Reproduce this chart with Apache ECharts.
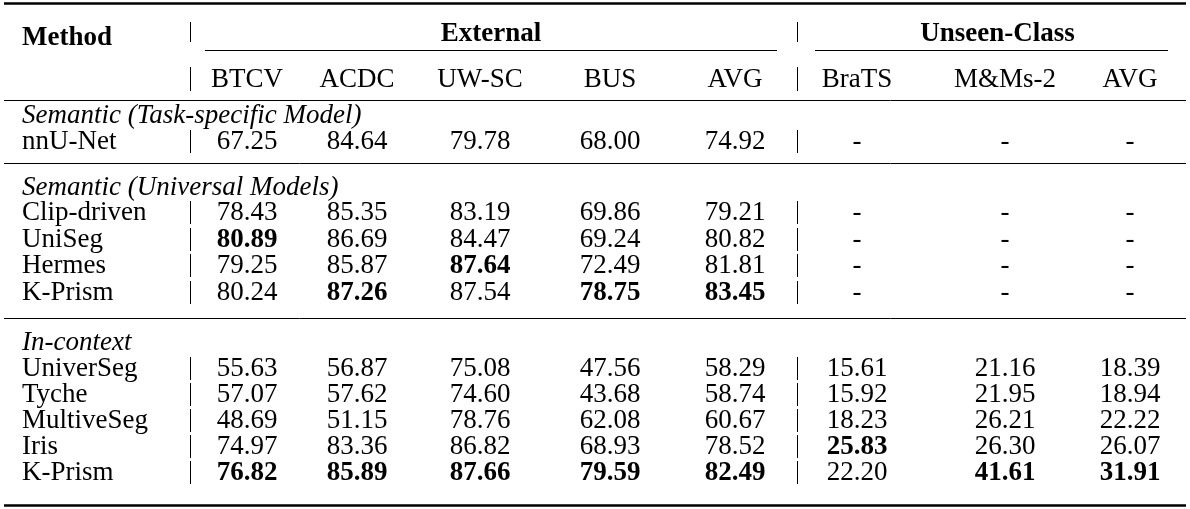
<!DOCTYPE html>
<html>
<head>
<meta charset="utf-8">
<script src="https://cdn.jsdelivr.net/npm/echarts@6/dist/echarts.min.js"></script>
<style>html,body{margin:0;padding:0;background:#fff}#main{width:1190px;height:509px}</style>
</head>
<body>
<div id="main"></div>
<script>
// table content
var externalCols = ["BTCV", "ACDC", "UW-SC", "BUS", "AVG"];
var unseenCols = ["BraTS", "M&Ms-2", "AVG"];
var groups = ["Semantic (Task-specific Model)", "Semantic (Universal Models)", "In-context"];
var methods = ["nnU-Net", "Clip-driven", "UniSeg", "Hermes", "K-Prism", "UniverSeg", "Tyche", "MultiveSeg", "Iris", "K-Prism"];
var externalVals = [
  [67.25, 84.64, 79.78, 68.00, 74.92],
  [78.43, 85.35, 83.19, 69.86, 79.21],
  [80.89, 86.69, 84.47, 69.24, 80.82],
  [79.25, 85.87, 87.64, 72.49, 81.81],
  [80.24, 87.26, 87.54, 78.75, 83.45],
  [55.63, 56.87, 75.08, 47.56, 58.29],
  [57.07, 57.62, 74.60, 43.68, 58.74],
  [48.69, 51.15, 78.76, 62.08, 60.67],
  [74.97, 83.36, 86.82, 68.93, 78.52],
  [76.82, 85.89, 87.66, 79.59, 82.49]
];
var unseenVals = [
  null, null, null, null, null,
  [15.61, 21.16, 18.39],
  [15.92, 21.95, 18.94],
  [18.23, 26.21, 22.22],
  [25.83, 26.30, 26.07],
  [22.20, 41.61, 31.91]
];
// [row, col] of bold cells, col 0-4 external, 5-7 unseen
var boldCells = [[2,0],[3,2],[4,1],[4,3],[4,4],[8,5],[9,0],[9,1],[9,2],[9,3],[9,4],[9,6],[9,7]];

// layout (pixel space of the grid)
var colX = [247, 357, 480, 610, 735, 857, 1005, 1130];
var methodX = 22;
var sep1 = 190, sep2 = 797;
var groupY = [116, 188, 343];
var rowY = [142, 213, 240, 266, 293, 369, 395, 421, 447, 473];
var head1Y = 38, head2Y = 80;
var font = "'Liberation Serif', 'Times New Roman', serif";

function isBold(r, c) {
  return boldCells.some(function (b) { return b[0] === r && b[1] === c; });
}
function txt(x, y, s, opt) {
  opt = opt || {};
  return {
    value: [x, y],
    label: {
      show: true, formatter: s, position: [0, 0],
      align: opt.align || "center", verticalAlign: "middle",
      fontFamily: font, fontSize: opt.size || 27, color: "#000", opacity: 1,
      fontWeight: opt.bold ? "bold" : "normal",
      fontStyle: opt.italic ? "italic" : "normal"
    }
  };
}

var texts = [];
texts.push(txt(methodX, 38, "Method", {align: "left", bold: true}));
texts.push(txt((colX[0] + colX[4]) / 2, head1Y - 4, "External", {bold: true}));
texts.push(txt((colX[5] + colX[7]) / 2 + 4, head1Y - 4, "Unseen-Class", {bold: true}));
externalCols.forEach(function (c, i) { texts.push(txt(colX[i], head2Y, c)); });
unseenCols.forEach(function (c, i) { texts.push(txt(colX[5 + i], head2Y, c)); });
groups.forEach(function (g, i) { texts.push(txt(methodX, groupY[i], g, {align: "left", italic: true})); });
methods.forEach(function (m, r) {
  texts.push(txt(methodX, rowY[r], m, {align: "left"}));
  externalVals[r].forEach(function (v, c) {
    texts.push(txt(colX[c], rowY[r], v.toFixed(2), {bold: isBold(r, c)}));
  });
  for (var k = 0; k < 3; k++) {
    var u = unseenVals[r];
    texts.push(txt(colX[5 + k], rowY[r], u ? u[k].toFixed(2) : "-", {bold: u && isBold(r, 5 + k)}));
  }
});

// rules
function seg(x1, y1, x2, y2, w) {
  return {coords: [[x1, y1], [x2, y2]], lineStyle: {width: w, color: "#000", opacity: 1}};
}
var rules = [
  seg(4, 3, 1186, 3, 2.5),
  seg(205, 50, 777, 50, 1),
  seg(815, 50, 1168, 50, 1),
  seg(4, 100, 1186, 100, 1),
  seg(4, 163, 1186, 163, 1),
  seg(4, 318, 1186, 318, 1),
  seg(4, 505, 1186, 505, 2.5),
  seg(sep1, head1Y - 16, sep1, head1Y + 4, 1),
  seg(sep2, head1Y - 16, sep2, head1Y + 4, 1),
  seg(sep1, head2Y - 13, sep1, head2Y + 11, 1),
  seg(sep2, head2Y - 13, sep2, head2Y + 11, 1)
];
rowY.forEach(function (y) {
  rules.push(seg(sep1, y - 12, sep1, y + 11, 1));
  rules.push(seg(sep2, y - 12, sep2, y + 11, 1));
});

var chart = echarts.init(document.getElementById("main"));
chart.setOption({
  animation: false,
  grid: {left: 0, right: 0, top: 0, bottom: 0},
  xAxis: {type: "value", min: 0, max: 1190, show: false},
  yAxis: {type: "value", min: 0, max: 509, inverse: true, show: false},
  series: [
    {type: "lines", coordinateSystem: "cartesian2d", data: rules, silent: true,
     lineStyle: {opacity: 1}},
    {type: "scatter", symbolSize: 0, data: texts, silent: true,
     itemStyle: {opacity: 1}}
  ]
});
</script>
</body>
</html>
